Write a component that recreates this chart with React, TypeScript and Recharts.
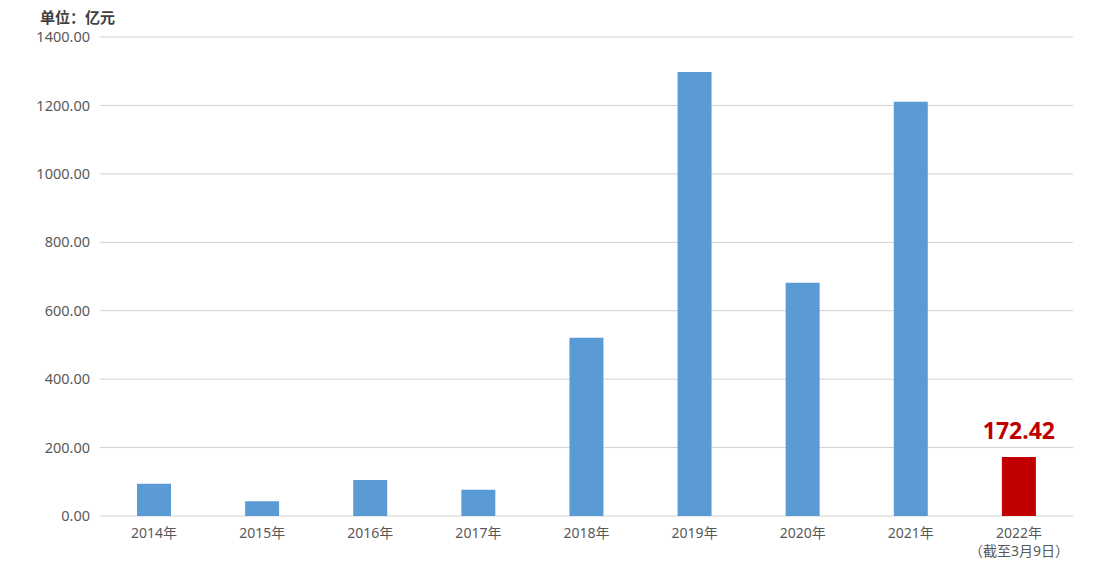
import { Bar, BarChart, CartesianGrid, Cell, LabelList, XAxis, YAxis } from 'recharts'

const years = ['2014年', '2015年', '2016年', '2017年', '2018年', '2019年', '2020年', '2021年', '2022年']
const notes = ['', '', '', '', '', '', '', '', '（截至3月9日）']
const amounts = [94, 43, 105, 77, 521, 1298, 682, 1211, 172.42]
const yTicks = [0, 200, 400, 600, 800, 1000, 1200, 1400]
const highlightYear = '2022年'

const data = years.map((year, i) => ({ year, note: notes[i], amount: amounts[i] }))

const font = '"Noto Sans", "Noto Sans CJK SC", sans-serif'

function YearTick(props: any) {
  const { x, y, payload, index } = props
  const note = notes[index]
  return (
    <g transform={`translate(${x},${y})`}>
      <text textAnchor='middle' dy={14} fill='#595959' fontSize={14} fontFamily={font}>
        {payload.value}
      </text>
      {note && (
        <text textAnchor='middle' dy={32} fill='#595959' fontSize={14} fontFamily={font}>
          {note}
        </text>
      )}
    </g>
  )
}

function ValueLabel(props: any) {
  const { x, y, width, index } = props
  if (years[index] !== highlightYear) return null
  return (
    <text
      x={x + width / 2}
      y={y - 18}
      textAnchor='middle'
      fill='#c00000'
      fontSize={23}
      fontWeight='bold'
      fontFamily={font}
    >
      {amounts[index].toFixed(2)}
    </text>
  )
}

export default function App() {
  return (
    <div style={{ position: 'absolute', left: 0, top: 0, width: 1100, height: 572, background: '#fff' }}>
      <div
        style={{
          position: 'absolute',
          left: 40,
          top: 9,
          lineHeight: '16px',
          fontFamily: '"Noto Sans CJK SC", sans-serif',
          fontSize: 15,
          fontWeight: 'bold',
          color: '#404040',
        }}
      >
        单位：亿元
      </div>
      <BarChart
        width={1100}
        height={572}
        data={data}
        margin={{ top: 37, right: 27, left: 0, bottom: 6 }}
        barSize={34}
      >
        <CartesianGrid vertical={false} stroke='#d0d0d0' />
        <XAxis
          dataKey='year'
          axisLine={false}
          tickLine={false}
          interval={0}
          height={50}
          tick={<YearTick />}
        />
        <YAxis
          width={100}
          domain={[0, 1400]}
          ticks={yTicks}
          axisLine={false}
          tickLine={false}
          tickSize={0}
          tickMargin={10}
          tick={{ fill: '#595959', fontSize: 14.5, fontFamily: font }}
          tickFormatter={(v: number) => v.toFixed(2)}
        />
        <Bar dataKey='amount' isAnimationActive={false}>
          {data.map((d) => (
            <Cell key={d.year} fill={d.year === highlightYear ? '#c00000' : '#5b9bd5'} />
          ))}
          <LabelList dataKey='amount' content={<ValueLabel />} />
        </Bar>
      </BarChart>
    </div>
  )
}
